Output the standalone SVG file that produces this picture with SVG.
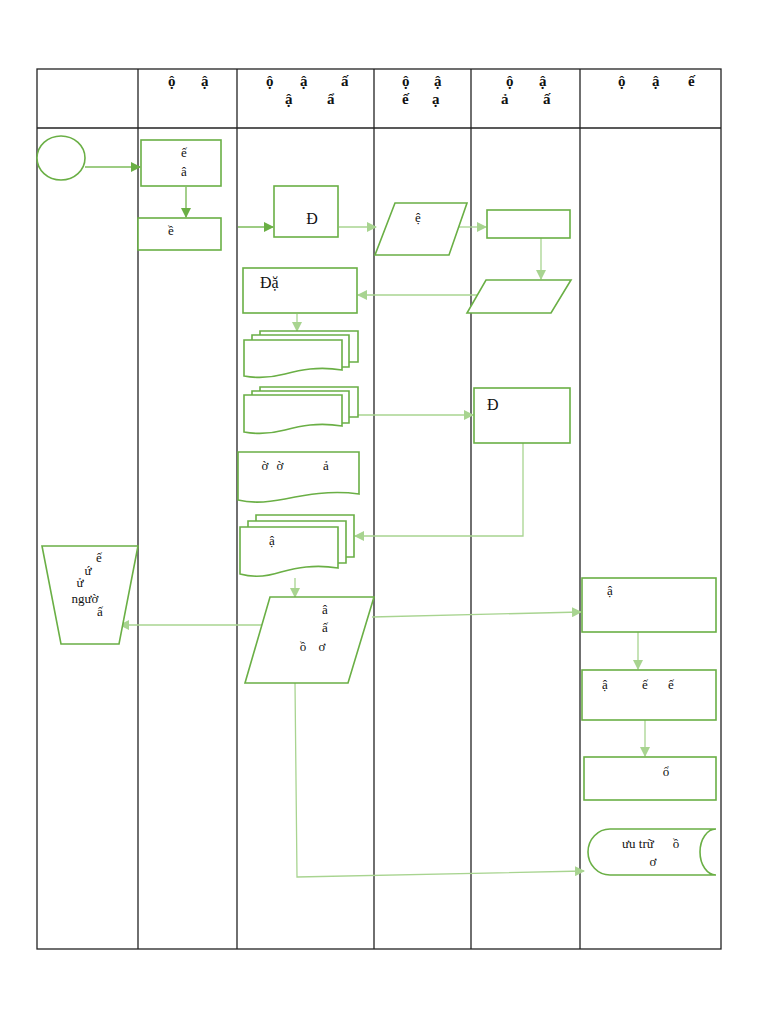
<svg xmlns="http://www.w3.org/2000/svg" width="768" height="1024" viewBox="0 0 768 1024">
<style>
.grid{fill:none;stroke:#222;stroke-width:1.3}
.n{fill:#fff;stroke:#6aaf45;stroke-width:1.6}
.c{fill:none;stroke:#a8d490;stroke-width:1.3}
.cd{fill:none;stroke:#7dbb5a;stroke-width:1.4}
.h{font-family:"Liberation Serif","DejaVu Serif",serif;font-size:15px;font-weight:bold;fill:#111}
.t{font-family:"Liberation Serif","DejaVu Serif",serif;font-size:13px;fill:#111}
.tb{font-family:"Liberation Serif","DejaVu Serif",serif;font-size:16px;fill:#111}
</style>
<defs>
<marker id="a" markerWidth="10" markerHeight="10" refX="9" refY="5" orient="auto" markerUnits="userSpaceOnUse"><path d="M0,0 L10,5 L0,10 Z" fill="#a8d490"/></marker>
<marker id="ad" markerWidth="10" markerHeight="10" refX="9" refY="5" orient="auto" markerUnits="userSpaceOnUse"><path d="M0,0 L10,5 L0,10 Z" fill="#6aaf45"/></marker>
</defs>
<rect width="768" height="1024" fill="#fff"/>
<g id="table">
<rect class="grid" x="37" y="69" width="684" height="880"/>
<line class="grid" x1="37" y1="128" x2="721" y2="128"/>
<line class="grid" x1="138" y1="69" x2="138" y2="949"/>
<line class="grid" x1="237" y1="69" x2="237" y2="949"/>
<line class="grid" x1="374" y1="69" x2="374" y2="949"/>
<line class="grid" x1="471" y1="69" x2="471" y2="949"/>
<line class="grid" x1="580" y1="69" x2="580" y2="949"/>
<text class="h" x="168 201" y="86">ộậ</text>
<text class="h" x="266 300 341" y="86">ộậấ</text>
<text class="h" x="285 327" y="104">ậẩ</text>
<text class="h" x="402 434" y="86">ộậ</text>
<text class="h" x="402 432" y="104">ếạ</text>
<text class="h" x="506 539" y="86">ộậ</text>
<text class="h" x="501 543" y="104">ảấ</text>
<text class="h" x="618 652 688" y="86">ộậế</text>
</g>
<g id="connectors">
<line class="cd" x1="85" y1="167" x2="140" y2="167" marker-end="url(#ad)"/>
<line class="cd" x1="186" y1="187" x2="186" y2="217" marker-end="url(#ad)"/>
<line class="cd" x1="238" y1="227" x2="273" y2="227" marker-end="url(#ad)"/>
<line class="c" x1="339" y1="227" x2="376" y2="227" marker-end="url(#a)"/>
<line class="c" x1="458" y1="227" x2="486" y2="227" marker-end="url(#a)"/>
<line class="c" x1="541" y1="238" x2="541" y2="279" marker-end="url(#a)"/>
<line class="c" x1="477" y1="295" x2="358" y2="295" marker-end="url(#a)"/>
<line class="c" x1="297" y1="314" x2="297" y2="331" marker-end="url(#a)"/>
<line class="c" x1="358" y1="415" x2="473" y2="415" marker-end="url(#a)"/>
<polyline class="c" points="523,443 523,536 355,536" marker-end="url(#a)"/>
<line class="c" x1="295" y1="578" x2="295" y2="597" marker-end="url(#a)"/>
<line class="c" x1="262" y1="625" x2="120" y2="625" marker-end="url(#a)"/>
<line class="c" x1="372" y1="617" x2="581" y2="612" marker-end="url(#a)"/>
<line class="c" x1="638" y1="632" x2="638" y2="669" marker-end="url(#a)"/>
<line class="c" x1="645" y1="720" x2="645" y2="756" marker-end="url(#a)"/>
<polyline class="c" points="295,683 297,877 584,871" marker-end="url(#a)"/>
</g>
<g id="start"><ellipse class="n" cx="61" cy="158" rx="24" ry="22"/></g>
<g id="n1"><rect class="n" x="141" y="140" width="80" height="46"/>
<text class="t" x="184" y="157" text-anchor="middle">ế</text><text class="t" x="184" y="176" text-anchor="middle">â</text></g>
<g id="n2"><rect class="n" x="138" y="218" width="83" height="32"/><text class="t" x="171" y="235" text-anchor="middle">ề</text></g>
<g id="n3"><rect class="n" x="274" y="186" width="64" height="51"/><text class="tb" x="312" y="224" text-anchor="middle">Đ</text></g>
<g id="n4"><polygon class="n" points="395,203 467,203 449,255 375,255"/><text class="t" x="418" y="222" text-anchor="middle">ệ</text></g>
<g id="n5"><rect class="n" x="487" y="210" width="83" height="28"/></g>
<g id="n6"><polygon class="n" points="486,280 571,280 551,313 467,313"/></g>
<g id="n7"><rect class="n" x="243" y="268" width="114" height="45"/><text class="tb" x="260" y="288">Đặ</text></g>
<g id="n8">
<path class="n" d="M260,331 H358 V362 H260 Z"/>
<path class="n" d="M252,335 H349 V367 H252 Z"/>
<path class="n" d="M244,340 H342 V370 C318,366 300,370 285,374 C270,378 255,378 244,376 Z"/>
</g>
<g id="n9">
<path class="n" d="M260,387 H358 V417 H260 Z"/>
<path class="n" d="M252,391 H349 V423 H252 Z"/>
<path class="n" d="M244,395 H342 V426 C318,422 300,426 285,430 C270,434 255,434 244,432 Z"/>
</g>
<g id="n10"><rect class="n" x="474" y="388" width="96" height="55"/><text class="tb" x="487" y="410">Đ</text></g>
<g id="n11"><path class="n" d="M238,452 H359 V494 C330,490 305,495 285,499 C265,503 250,503 238,500 Z"/>
<text class="t" x="265 280 326" y="470" text-anchor="middle">ờờả</text></g>
<g id="n12">
<path class="n" d="M256,515 H354 V557 H256 Z"/>
<path class="n" d="M248,521 H346 V563 H248 Z"/>
<path class="n" d="M240,527 H338 V568 C314,564 296,568 281,572 C266,577 251,577 240,574 Z"/>
<text class="t" x="272" y="545" text-anchor="middle">ậ</text>
</g>
<g id="n13"><polygon class="n" points="270,597 374,597 348,683 245,683"/>
<text class="t" x="325" y="614" text-anchor="middle">â</text><text class="t" x="325" y="632" text-anchor="middle">ấ</text>
<text class="t" x="303 322" y="651" text-anchor="middle">ồơ</text></g>
<g id="n14"><polygon class="n" points="42,546 138,546 119,644 61,644"/>
<text class="t" x="99" y="562" text-anchor="middle">ế</text><text class="t" x="88" y="575" text-anchor="middle">ứ</text>
<text class="t" x="80" y="587" text-anchor="middle">ử</text><text class="t" x="85" y="603" text-anchor="middle">ngườ</text>
<text class="t" x="100" y="616" text-anchor="middle">ấ</text></g>
<g id="n15"><rect class="n" x="582" y="578" width="134" height="54"/><text class="t" x="610" y="595" text-anchor="middle">ậ</text></g>
<g id="n16"><rect class="n" x="582" y="670" width="134" height="50"/><text class="t" x="605 645 671" y="689" text-anchor="middle">ậếế</text></g>
<g id="n17"><rect class="n" x="584" y="757" width="132" height="43"/><text class="t" x="666" y="776" text-anchor="middle">ổ</text></g>
<g id="n18"><path class="n" d="M610,829 H716 A16,23 0 0 0 716,875 H610 A22,23 0 0 1 610,829 Z"/>
<text class="t" x="622" y="848">ưu trữ</text><text class="t" x="676" y="848" text-anchor="middle">ồ</text>
<text class="t" x="653" y="866" text-anchor="middle">ơ</text></g>
</svg>
